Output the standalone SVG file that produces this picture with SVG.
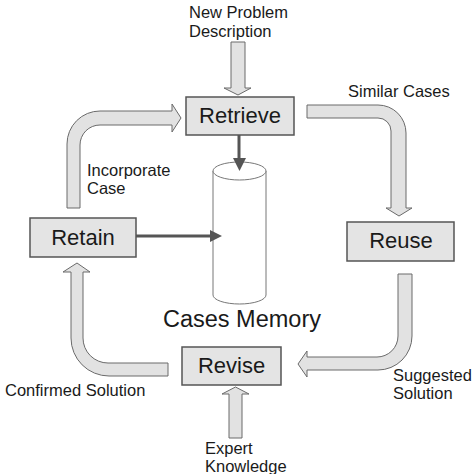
<svg xmlns="http://www.w3.org/2000/svg" width="474" height="474" viewBox="0 0 474 474">
<style>
.box{fill:#e4e4e4;stroke:#555;stroke-width:1.5}
.big{font-family:"Liberation Sans",Arial,sans-serif;font-size:22px;fill:#1a1a1a;text-anchor:middle}
.lbl{font-family:"Liberation Sans",Arial,sans-serif;font-size:16.5px;fill:#1a1a1a}
.band{fill:#e2e2e2;stroke:#6a6a6a;stroke-width:1}
.dark{stroke:#555;stroke-width:3;fill:none}
.head{fill:#555}
</style>
<rect width="474" height="474" fill="#fff"/>
<g id="connectors">
<path class="band" d="M307,105 L378,105 A28,28 0 0 1 406,133 L406,208 L412,208 L399,216 L386,208 L391,208 L391,131 A13,13 0 0 0 378,118 L307,118 Z"/>
<path class="band" d="M398,274 L412,274 L412,336 A34,34 0 0 1 378,370 L307,370 L307,377 L298,364 L307,351 L307,357 L377,357 A21,21 0 0 0 398,336 Z"/>
<path class="band" d="M168,363 L108,363 A25,25 0 0 1 83,338 L83,272 L90,272 L77,263 L63,272 L71,272 L71,338 A38,38 0 0 0 109,376 L168,376 Z"/>
<path class="band" d="M67,208 L67,144 A33,33 0 0 1 100,111 L172,111 L172,104 L181,118 L172,132 L172,125 L100,125 A20,20 0 0 0 80,145 L80,208 Z"/>
<path class="band" d="M231,42 L245,42 L245,88 L251,88 L238,95 L224,88 L231,88 Z"/>
<path class="band" d="M229,438 L229,394 L222,394 L235.5,387 L249,394 L242,394 L242,438 Z"/>
</g>
<g id="memory">
<path d="M213,171 L213,295 A26.5,9 0 0 0 266,295 L266,171" fill="#fff" stroke="#777" stroke-width="1"/>
<ellipse cx="239.5" cy="171" rx="26.5" ry="9" fill="#fff" stroke="#777" stroke-width="1"/>
<text class="big" x="242" y="327" style="font-size:23.5px">Cases Memory</text>
</g>
<g id="dark-connectors">
<line class="dark" x1="239" y1="135" x2="239" y2="160"/>
<polygon class="head" points="233,158 246,158 239.5,171"/>
<line class="dark" x1="136" y1="236" x2="212" y2="236"/>
<polygon class="head" points="210,230 210,242 222,236"/>
</g>
<g id="retrieve">
<rect class="box" x="186" y="97" width="108" height="38"/>
<text class="big" x="240" y="123">Retrieve</text>
</g>
<g id="reuse">
<rect class="box" x="347" y="222" width="107" height="39"/>
<text class="big" x="401" y="248">Reuse</text>
</g>
<g id="revise">
<rect class="box" x="182" y="347" width="99" height="38"/>
<text class="big" x="231.5" y="373">Revise</text>
</g>
<g id="retain">
<rect class="box" x="30" y="218" width="106" height="39"/>
<text class="big" x="83" y="245">Retain</text>
</g>
<g id="labels">
<text class="lbl" x="189" y="18">New Problem</text>
<text class="lbl" x="189" y="37">Description</text>
<text class="lbl" x="348" y="97">Similar Cases</text>
<text class="lbl" x="87" y="176">Incorporate</text>
<text class="lbl" x="87" y="194">Case</text>
<text class="lbl" x="5" y="396">Confirmed Solution</text>
<text class="lbl" x="393" y="381">Suggested</text>
<text class="lbl" x="393" y="399">Solution</text>
<text class="lbl" x="205" y="454">Expert</text>
<text class="lbl" x="205" y="472">Knowledge</text>
</g>
</svg>
